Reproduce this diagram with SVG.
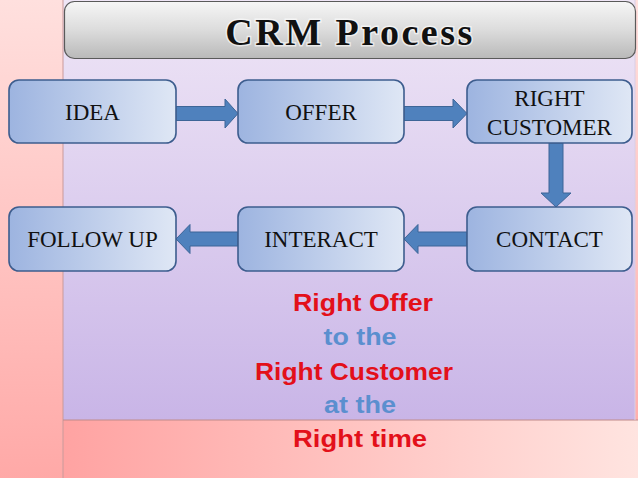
<svg xmlns="http://www.w3.org/2000/svg" width="638" height="478" viewBox="0 0 638 478">
<defs>
<linearGradient id="leftBg" x1="0" y1="0" x2="0" y2="1"><stop offset="0" stop-color="#ffe0de"/><stop offset="1" stop-color="#ffa9a7"/></linearGradient>
<linearGradient id="mainBg" x1="0" y1="0" x2="0" y2="1"><stop offset="0" stop-color="#efe6f6"/><stop offset="1" stop-color="#c9b5e7"/></linearGradient>
<linearGradient id="botBg" x1="0" y1="0" x2="1" y2="0"><stop offset="0" stop-color="#ffa3a2"/><stop offset="1" stop-color="#ffe4e0"/></linearGradient>
<linearGradient id="titleBg" x1="0" y1="0" x2="0" y2="1"><stop offset="0" stop-color="#f6f6f6"/><stop offset="0.5" stop-color="#dcdcdc"/><stop offset="1" stop-color="#b9b9b9"/></linearGradient>
<linearGradient id="boxBg" x1="0" y1="0" x2="1" y2="0"><stop offset="0" stop-color="#9db4e0"/><stop offset="1" stop-color="#dfe7f5"/></linearGradient>
<style>
.box{fill:url(#boxBg);stroke:#3d5d8e;stroke-width:1.6}
.lbl{font-family:"Liberation Serif","Times New Roman",serif;font-size:23px;fill:#111;text-anchor:middle}
.arr{fill:#4f81bd;stroke:#3d6597;stroke-width:1}
.msg{font-family:"Liberation Sans",Arial,sans-serif;font-weight:bold;font-size:24px;text-anchor:middle}
.red{fill:#e3101a}
.blue{fill:#5b8fcf}
</style>
</defs>
<rect x="0" y="0" width="638" height="478" fill="url(#leftBg)"/>
<rect x="63" y="0" width="572" height="420" fill="url(#mainBg)"/>
<rect x="63" y="420" width="575" height="58" fill="url(#botBg)"/>
<line x1="63" y1="0" x2="63" y2="478" stroke="#c99a9a" stroke-width="1"/>
<line x1="63" y1="420" x2="638" y2="420" stroke="#c08a8a" stroke-width="1"/>
<line x1="635" y1="0" x2="635" y2="420" stroke="#d8cfe6" stroke-width="1"/>
<g id="title">
<rect x="64.5" y="1.5" width="571" height="57" rx="10" fill="url(#titleBg)" stroke="#5a5a5a" stroke-width="1.2"/>
<text x="350" y="45" font-family="Liberation Serif,'Times New Roman',serif" font-weight="bold" font-size="38" letter-spacing="2.5" text-anchor="middle" fill="#111" stroke="#ffffff" stroke-width="3" stroke-opacity="0.6" paint-order="stroke">CRM Process</text>
</g>
<g id="connectors">
<polygon class="arr" points="176,106.5 225,106.5 225,99 238,113.5 225,128 225,120.5 176,120.5"/>
<polygon class="arr" points="404,106.5 453,106.5 453,99 467,113.5 453,128 453,120.5 404,120.5"/>
<polygon class="arr" points="549,143 563,143 563,193 571,193 556,207 541,193 549,193"/>
<polygon class="arr" points="467,232 418,232 418,224.5 404,239 418,253.5 418,246 467,246"/>
<polygon class="arr" points="238,232 190,232 190,224.5 176,239 190,253.5 190,246 238,246"/>
</g>
<g id="node-idea"><rect class="box" x="9" y="80" width="167" height="63" rx="10"/><text class="lbl" x="92.5" y="120">IDEA</text></g>
<g id="node-offer"><rect class="box" x="238" y="80" width="166" height="63" rx="10"/><text class="lbl" x="321" y="120">OFFER</text></g>
<g id="node-right-customer"><rect class="box" x="467" y="80" width="165" height="63" rx="10"/><text class="lbl" x="549.5" y="106">RIGHT</text><text class="lbl" x="549.5" y="135">CUSTOMER</text></g>
<g id="node-contact"><rect class="box" x="467" y="207" width="165" height="64" rx="10"/><text class="lbl" x="549.5" y="247">CONTACT</text></g>
<g id="node-interact"><rect class="box" x="238" y="207" width="166" height="64" rx="10"/><text class="lbl" x="321" y="247">INTERACT</text></g>
<g id="node-follow-up"><rect class="box" x="9" y="207" width="167" height="64" rx="10"/><text class="lbl" x="92.5" y="247">FOLLOW UP</text></g>
<g id="message">
<text class="msg red" x="363" y="311" textLength="140" lengthAdjust="spacingAndGlyphs">Right Offer</text>
<text class="msg blue" x="360" y="345" textLength="73" lengthAdjust="spacingAndGlyphs">to the</text>
<text class="msg red" x="354" y="380" textLength="198" lengthAdjust="spacingAndGlyphs">Right Customer</text>
<text class="msg blue" x="360" y="413" textLength="72" lengthAdjust="spacingAndGlyphs">at the</text>
<text class="msg red" x="360" y="447" textLength="134" lengthAdjust="spacingAndGlyphs">Right time</text>
</g>
</svg>
